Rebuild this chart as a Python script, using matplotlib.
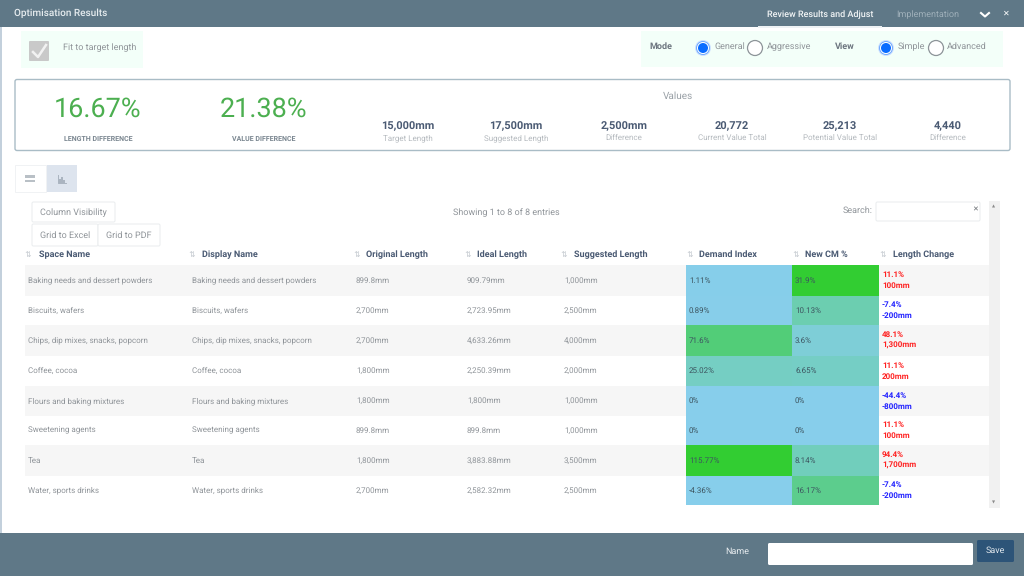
import matplotlib
matplotlib.use('Agg')
import matplotlib.pyplot as plt
from matplotlib.colors import LinearSegmentedColormap
from matplotlib.patches import Rectangle, FancyBboxPatch, Circle

plt.rcParams['font.family'] = ['Roboto', 'DejaVu Sans']
plt.rcParams['text.hinting'] = 'none'
plt.rcParams['text.hinting_factor'] = 1

# table values
columns = ['Space Name', 'Display Name', 'Original Length', 'Ideal Length', 'Suggested Length',
           'Demand Index', 'New CM %', 'Length Change']
space_names = ['Baking needs and dessert powders', 'Biscuits, wafers', 'Chips, dip mixes, snacks, popcorn',
               'Coffee, cocoa', 'Flours and baking mixtures', 'Sweetening agents', 'Tea', 'Water, sports drinks']
original_length = ['899.8mm', '2,700mm', '2,700mm', '1,800mm', '1,800mm', '899.8mm', '1,800mm', '2,700mm']
ideal_length = ['909.79mm', '2,723.95mm', '4,633.26mm', '2,250.39mm', '1,800mm', '899.8mm', '3,883.88mm', '2,582.32mm']
suggested_length = ['1,000mm', '2,500mm', '4,000mm', '2,000mm', '1,000mm', '1,000mm', '3,500mm', '2,500mm']
demand_index = [1.11, 0.89, 71.6, 25.02, 0, 0, 115.77, -4.36]
new_cm = [31.9, 10.13, 3.6, 6.65, 0, 0, 8.14, 16.17]
change_pct = [11.1, -7.4, 48.1, 11.1, -44.4, 11.1, 94.4, -7.4]
change_mm = [100, -200, 1300, 200, -800, 100, 1700, -200]

kpi_values = ['15,000mm', '17,500mm', '2,500mm', '20,772', '25,213', '4,440']
kpi_labels = ['Target Length', 'Suggested Length', 'Difference', 'Current Value Total',
              'Potential Value Total', 'Difference']

# layout in screen pixels
kpi_x = [408, 516, 624, 732, 840, 948]
row_edges = [265, 296, 325, 356, 386, 416, 445, 476, 505]
col_text_x = [28, 192, 356, 467, 564, 689, 795, 882]
col_head_x = [39, 202, 366, 477, 574, 699, 805, 893]
sort_x = [28, 192, 357, 468, 564, 690, 796, 883]

BAR = '#5f7887'
GREY = '#8f9499'
NAVY = '#4a5a73'
heat = LinearSegmentedColormap.from_list('heat', ['#87ceeb', '#32cd32'])

fig = plt.figure(figsize=(10.24, 5.76), dpi=100)
ax = fig.add_axes([0, 0, 1, 1])
ax.set_xlim(0, 1024)
ax.set_ylim(576, 0)
ax.axis('off')


def rect(x0, y0, x1, y1, fc, ec='none', lw=0, z=1):
    ax.add_patch(Rectangle((x0, y0), x1 - x0, y1 - y0, fc=fc, ec=ec, lw=lw, zorder=z))


def label(x, y, s, size=6, color=GREY, ha='left', weight='normal', **kw):
    # baseline placement keeps every row level whatever the glyphs are
    ax.text(x, y + size * 0.5 - 1, s, fontsize=size, color=color, ha=ha, va='baseline', weight=weight, zorder=5, **kw)


# header and footer bars
rect(0, 0, 1024, 27, BAR)
rect(0, 533, 1024, 576, BAR)
rect(0, 27, 1.5, 533, '#c3d0dc')
label(14, 13.5, 'Optimisation Results', 7.1, '#e6ecef', weight='medium')
label(820, 15, 'Review Results and Adjust', 6.2, '#f2f5f6', ha='center', weight='medium')
rect(758, 26, 882, 27.5, '#eef2f4', z=2)
label(928, 15, 'Implementation', 6.4, '#9fb0ba', ha='center')
ax.plot([981, 985, 989], [13, 16.5, 13], color='white', lw=1.5, zorder=5)
label(1006, 14, '\u2715', 6, 'white', ha='center', family='DejaVu Sans', weight='bold')

# option panels
rect(21, 31, 143, 68, '#f3fff9')
rect(641, 31, 1003, 67, '#f3fff9')
ax.add_patch(FancyBboxPatch((29, 41), 20, 20, boxstyle='round,pad=0,rounding_size=1', fc='#c9c9c9', ec='none', zorder=2))
ax.plot([33, 38, 46], [52, 57, 45], color='#f2f2f2', lw=1.8, zorder=3)
label(63, 48, 'Fit to target length', 6.3, GREY)
label(649, 47, 'Mode', 6.2, '#6d7680', weight='bold')
label(835, 47, 'View', 6.2, '#6d7680', weight='bold')
for x in [703, 886]:
    ax.add_patch(Circle((x, 48), 8, fc='#cfe2ff', ec='none', zorder=2))
    ax.add_patch(Circle((x, 48), 6.5, fc='white', ec='#6ea8fe', lw=0.7, zorder=3))
    ax.add_patch(Circle((x, 48), 5, fc='#0a6cff', ec='none', zorder=4))
for x in [755, 936]:
    ax.add_patch(Circle((x, 48), 7.5, fc='white', ec='#8d9499', lw=0.9, zorder=3))
label(714, 47, 'General', 6.3, GREY)
label(767, 47, 'Aggressive', 6.3, GREY)
label(898, 47, 'Simple', 6.3, GREY)
label(947, 47, 'Advanced', 6.3, GREY)

# summary box
ax.add_patch(FancyBboxPatch((15, 79.5), 995, 71, boxstyle='round,pad=0,rounding_size=2', fc='white', ec='#a9bcc6', lw=1.0, zorder=2))
label(98, 108, '16.67%', 19.5, '#4caf50', ha='center')
label(264, 108, '21.38%', 19.5, '#4caf50', ha='center')
label(98, 139, 'LENGTH DIFFERENCE', 5.4, '#7b8791', ha='center', weight='bold')
label(264, 139, 'VALUE DIFFERENCE', 5.4, '#7b8791', ha='center', weight='bold')
label(678, 96, 'Values', 7.5, '#9aa1a7', ha='center')
for x, v, l in zip(kpi_x, kpi_values, kpi_labels):
    label(x, 126, v, 8, NAVY, ha='center', weight='bold')
    label(x, 138, l, 5.8, '#b5babf', ha='center')

# tabs
rect(15, 165, 46, 192, 'white', ec='#f0f2f4', lw=0.7)
rect(47, 165, 77, 192, '#dde4ee')
rect(25, 175, 35, 178, '#b9c0c6', z=3)
rect(25, 179.5, 35, 182, '#b9c0c6', z=3)
ax.plot([58, 58, 66], [175, 183, 183], color='#aab4c0', lw=0.7, zorder=3)
ax.bar([60, 62, 64], [-4, -6, -3], width=1.2, bottom=183, color='#aab4c0', zorder=3)

# table controls
for x0, y0, x1, y1, s in [(32, 202, 115, 222, 'Column Visibility'), (32, 224, 98, 246, 'Grid to Excel'),
                          (98, 224, 160, 246, 'Grid to PDF')]:
    ax.add_patch(FancyBboxPatch((x0, y0), x1 - x0, y1 - y0, boxstyle='round,pad=0,rounding_size=1.5', fc='white', ec='#eceef0', lw=0.8, zorder=2))
    label((x0 + x1) / 2, (y0 + y1) / 2 + 0.5, s, 6.3, GREY, ha='center')
label(506, 213, 'Showing 1 to 8 of 8 entries', 6.3, GREY, ha='center')
label(843, 211, 'Search:', 6.3, GREY)
ax.add_patch(FancyBboxPatch((876, 202), 104, 19, boxstyle='round,pad=0,rounding_size=1.5', fc='white', ec='#eceef0', lw=0.8, zorder=2))
label(975, 210, '\u2715', 5, '#666b70', ha='center', family='DejaVu Sans', weight='bold')
rect(989, 201, 1000, 508, '#f1f1f1')
label(994, 207, '\u25b2', 3, '#8a8a8a', ha='center', family='DejaVu Sans')
label(994, 503, '\u25bc', 3, '#8a8a8a', ha='center', family='DejaVu Sans')

# table header
for sx, hx, name in zip(sort_x, col_head_x, columns):
    label(sx, 255, '\u21c5', 6, '#c5cad0', ha='center', family='DejaVu Sans')
    label(hx, 255, name, 6.15, NAVY, weight='bold')
rect(25, 264.5, 989, 265.5, '#e6e8ea')

# table rows
dmax = max(demand_index)
cmax = max(new_cm)
for i in range(len(space_names)):
    y0, y1 = row_edges[i], row_edges[i + 1]
    y = (y0 + y1) / 2
    if i % 2 == 0:
        rect(25, y0, 989, y1, '#f6f6f6')
    rect(685.5, y0, 792, y1, heat(max(demand_index[i], 0) / dmax), z=2)
    rect(792, y0, 879, y1, heat(max(new_cm[i], 0) / cmax), z=2)
    label(col_text_x[0], y, space_names[i], 5.85)
    label(col_text_x[1], y, space_names[i], 5.85)
    label(col_text_x[2], y, original_length[i], 5.85)
    label(col_text_x[3], y, ideal_length[i], 5.85)
    label(col_text_x[4], y, suggested_length[i], 5.85)
    label(col_text_x[5], y, f'{demand_index[i]:g}%', 5.85, '#3d5560')
    label(col_text_x[6], y, f'{new_cm[i]:g}%', 5.85, '#3d5560')
    c = '#ff2020' if change_pct[i] > 0 else '#2020ff'
    label(col_text_x[7], y - 5.5, f'{change_pct[i]:g}%', 6.1, c, weight='bold')
    label(col_text_x[7], y + 5.5, f'{change_mm[i]:,}mm', 6.1, c, weight='bold')

# footer
label(737, 552, 'Name', 6.2, '#e8edf0', ha='center')
ax.add_patch(FancyBboxPatch((768, 543), 205, 22, boxstyle='round,pad=0,rounding_size=1.5', fc='white', ec='none', zorder=2))
ax.add_patch(FancyBboxPatch((977, 540), 37, 22, boxstyle='round,pad=0,rounding_size=1.5', fc='#2d5478', ec='none', zorder=2))
label(995.5, 551, 'Save', 6.2, '#dfe6ec', ha='center')

fig.savefig('out.png', dpi=100)
